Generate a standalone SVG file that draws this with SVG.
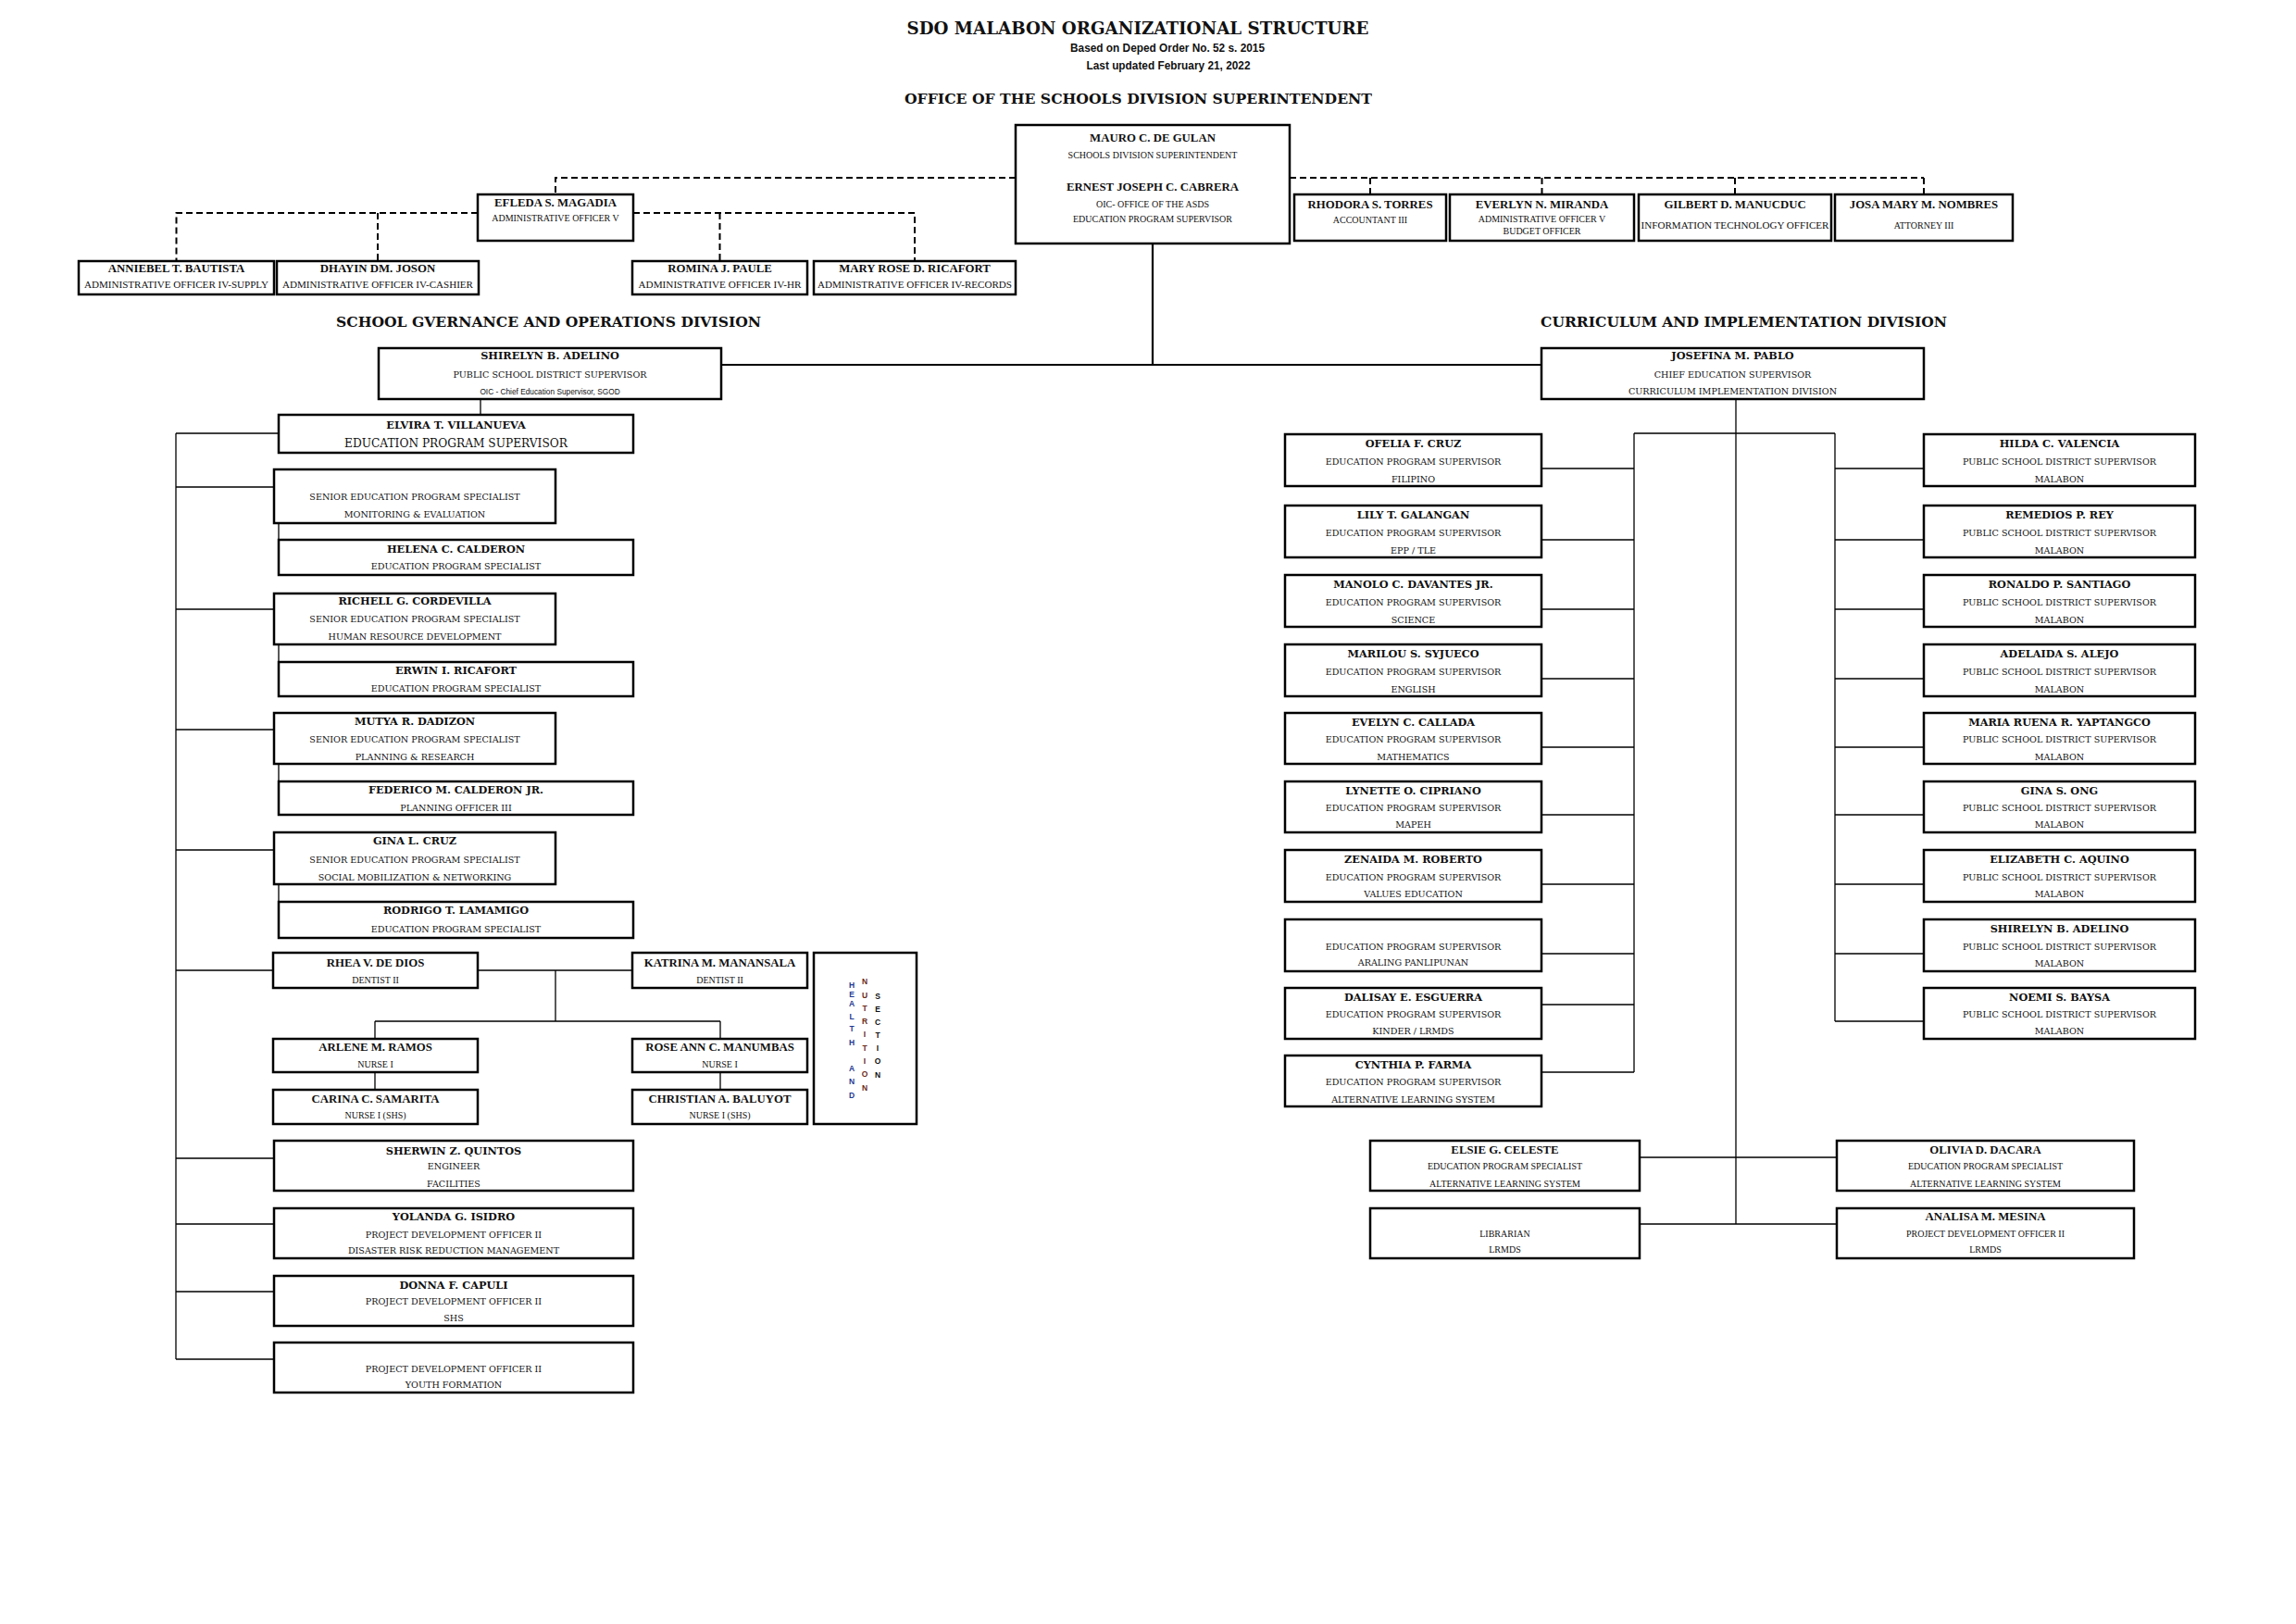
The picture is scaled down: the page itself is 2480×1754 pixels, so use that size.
<svg xmlns="http://www.w3.org/2000/svg" width="2480" height="1754" viewBox="0 0 2480 1754">
<style>
.bx{fill:#fff;stroke:#000;stroke-width:2.5}
.ln{stroke:#000;stroke-width:1.3;fill:none}
.lb{stroke:#000;stroke-width:2.2;fill:none}
.ds{stroke:#000;stroke-width:2;stroke-dasharray:7 4;fill:none}
text{fill:#111;text-anchor:middle}
.ttl{font-family:"DejaVu Serif",serif;font-weight:bold;font-size:19px}
.hd{font-family:"DejaVu Serif",serif;font-weight:bold;font-size:15.5px}
.cal{font-family:"Liberation Sans",sans-serif;font-weight:bold;font-size:12px}
.nb{font-family:"DejaVu Serif",serif;font-weight:bold;font-size:11.3px}
.sb{font-family:"DejaVu Serif",serif;font-size:9.6px}
.sl{font-family:"DejaVu Serif",serif;font-size:12.2px}
.nc{font-family:"Liberation Serif",serif;font-weight:bold;font-size:12.8px}
.sc{font-family:"Liberation Serif",serif;font-size:10px}
.ss{font-family:"Liberation Sans",sans-serif;font-size:8.3px}
.lt{font-family:"Liberation Sans",sans-serif;font-weight:bold;font-size:8.5px}
.c1{fill:#1f3a93}
.c2{fill:#6b2b1a}
</style>
<rect width="2480" height="1754" fill="#fff"/>
<g id="titles">
<text class="ttl" x="1229" y="37" textLength="499" lengthAdjust="spacingAndGlyphs">SDO MALABON ORGANIZATIONAL STRUCTURE</text>
<text class="cal" x="1261" y="56" textLength="210" lengthAdjust="spacingAndGlyphs">Based on Deped Order No. 52 s. 2015</text>
<text class="cal" x="1262" y="75" textLength="177" lengthAdjust="spacingAndGlyphs">Last updated February 21, 2022</text>
<text class="hd" x="1229.5" y="112" textLength="505" lengthAdjust="spacingAndGlyphs">OFFICE OF THE SCHOOLS DIVISION SUPERINTENDENT</text>
<text class="hd" x="592.5" y="353" textLength="459" lengthAdjust="spacingAndGlyphs">SCHOOL GVERNANCE AND OPERATIONS DIVISION</text>
<text class="hd" x="1883.5" y="353" textLength="439" lengthAdjust="spacingAndGlyphs">CURRICULUM AND IMPLEMENTATION DIVISION</text>
</g>
<g id="connectors">
<path class="ds" d="M1393,192H2078M1480,192V210M1665.5,192V210M1874,192V210M2078,192V210"/>
<path class="ds" d="M1097,192H600V210"/>
<path class="ds" d="M516,230H190.5V282M408,230V282M684,230H988V282M777.5,230V282"/>
<path class="lb" d="M1245,263V394M779,394H1665"/>
<path class="ln" d="M519,431V448"/>
<path class="ln" d="M190,468V1468M190,468H301M190,526H296M190,658H296M190,788H296M190,918H296M190,1048H295M190,1251H296M190,1322H296M190,1395H296M190,1468H296"/>
<path class="ln" d="M301,565V583M301,696V715M301,825V844M301,955V974"/>
<path class="ln" d="M516,1048H683M600,1048V1103M405,1103H778M405,1103V1122M778,1103V1122M405,1158V1177M778,1158V1177"/>
<path class="ln" d="M1875,431V1322M1765,468H1982M1765,468V1158M1982,468V1103"/>
<path class="ln" d="M1665,506H1765M1665,583H1765M1665,658H1765M1665,733H1765M1665,807H1765M1665,880H1765M1665,955H1765M1665,1030H1765M1665,1085H1765M1665,1158H1765"/>
<path class="ln" d="M1982,506H2078M1982,583H2078M1982,658H2078M1982,733H2078M1982,807H2078M1982,880H2078M1982,955H2078M1982,1030H2078M1982,1103H2078"/>
<path class="ln" d="M1771,1250H1984M1771,1322H1984"/>
</g>
<g id="sds"><rect class="bx" x="1097" y="135" width="296" height="128"/>
<text class="nc" x="1245" y="153">MAURO C. DE GULAN</text>
<text class="sc" x="1245" y="171">SCHOOLS DIVISION SUPERINTENDENT</text>
<text class="nc" x="1245" y="206">ERNEST JOSEPH C. CABRERA</text>
<text class="sc" x="1245" y="224">OIC- OFFICE OF THE ASDS</text>
<text class="sc" x="1245" y="240">EDUCATION PROGRAM SUPERVISOR</text></g>
<g id="torres"><rect class="bx" x="1398" y="210" width="164" height="50"/>
<text class="nc" x="1480" y="225">RHODORA S. TORRES</text>
<text class="sc" x="1480" y="241">ACCOUNTANT III</text></g>
<g id="miranda"><rect class="bx" x="1566" y="210" width="199" height="50"/>
<text class="nc" x="1665.5" y="225">EVERLYN N. MIRANDA</text>
<text class="sc" x="1665.5" y="240">ADMINISTRATIVE OFFICER V</text>
<text class="sc" x="1665.5" y="253">BUDGET OFFICER</text></g>
<g id="manucduc"><rect class="bx" x="1770" y="210" width="208" height="50"/>
<text class="nc" x="1874" y="225">GILBERT D. MANUCDUC</text>
<text class="sc" x="1874" y="247" textLength="203" lengthAdjust="spacingAndGlyphs">INFORMATION TECHNOLOGY OFFICER</text></g>
<g id="nombres"><rect class="bx" x="1982" y="210" width="192" height="50"/>
<text class="nc" x="2078" y="225">JOSA MARY M. NOMBRES</text>
<text class="sc" x="2078" y="247">ATTORNEY III</text></g>
<g id="magadia"><rect class="bx" x="516" y="210" width="168" height="50"/>
<text class="nc" x="600" y="223">EFLEDA S. MAGADIA</text>
<text class="sc" x="600" y="239">ADMINISTRATIVE OFFICER V</text></g>
<g id="bautista"><rect class="bx" x="85" y="282" width="211" height="36"/>
<text class="nc" x="190.5" y="294">ANNIEBEL T. BAUTISTA</text>
<text class="sc" x="190.5" y="311" textLength="199" lengthAdjust="spacingAndGlyphs">ADMINISTRATIVE OFFICER IV-SUPPLY</text></g>
<g id="joson"><rect class="bx" x="299" y="282" width="218" height="36"/>
<text class="nc" x="408" y="294">DHAYIN DM. JOSON</text>
<text class="sc" x="408" y="311" textLength="206" lengthAdjust="spacingAndGlyphs">ADMINISTRATIVE OFFICER IV-CASHIER</text></g>
<g id="paule"><rect class="bx" x="683" y="282" width="189" height="36"/>
<text class="nc" x="777.5" y="294">ROMINA J. PAULE</text>
<text class="sc" x="777.5" y="311" textLength="176" lengthAdjust="spacingAndGlyphs">ADMINISTRATIVE OFFICER IV-HR</text></g>
<g id="mricafort"><rect class="bx" x="879" y="282" width="218" height="36"/>
<text class="nc" x="988" y="294">MARY ROSE D. RICAFORT</text>
<text class="sc" x="988" y="311" textLength="210" lengthAdjust="spacingAndGlyphs">ADMINISTRATIVE OFFICER IV-RECORDS</text></g>
<g id="sgod-chief"><rect class="bx" x="409" y="376" width="370" height="55"/>
<text class="nb" x="594" y="388">SHIRELYN B. ADELINO</text>
<text class="sb" x="594" y="408">PUBLIC SCHOOL DISTRICT SUPERVISOR</text>
<text class="ss" x="594" y="426">OIC - Chief Education  Supervisor, SGOD</text></g>
<g id="villanueva"><rect class="bx" x="301" y="448" width="383" height="41"/>
<text class="nb" x="492.5" y="463">ELVIRA T. VILLANUEVA</text>
<text class="sl" x="492.5" y="483">EDUCATION PROGRAM SUPERVISOR</text></g>
<g id="seps-me"><rect class="bx" x="296" y="507" width="304" height="58"/>
<text class="sb" x="448" y="540">SENIOR EDUCATION PROGRAM SPECIALIST</text>
<text class="sb" x="448" y="559">MONITORING &amp; EVALUATION</text></g>
<g id="calderon-h"><rect class="bx" x="301" y="583" width="383" height="38"/>
<text class="nb" x="492.5" y="597">HELENA C. CALDERON</text>
<text class="sb" x="492.5" y="615">EDUCATION PROGRAM SPECIALIST</text></g>
<g id="cordevilla"><rect class="bx" x="296" y="641" width="304" height="55"/>
<text class="nb" x="448" y="653">RICHELL G. CORDEVILLA</text>
<text class="sb" x="448" y="672">SENIOR EDUCATION PROGRAM SPECIALIST</text>
<text class="sb" x="448" y="691">HUMAN RESOURCE DEVELOPMENT</text></g>
<g id="ericafort"><rect class="bx" x="301" y="715" width="383" height="37"/>
<text class="nb" x="492.5" y="728">ERWIN I. RICAFORT</text>
<text class="sb" x="492.5" y="747">EDUCATION PROGRAM SPECIALIST</text></g>
<g id="dadizon"><rect class="bx" x="296" y="770" width="304" height="55"/>
<text class="nb" x="448" y="783">MUTYA R. DADIZON</text>
<text class="sb" x="448" y="802">SENIOR EDUCATION PROGRAM SPECIALIST</text>
<text class="sb" x="448" y="821">PLANNING &amp; RESEARCH</text></g>
<g id="calderon-f"><rect class="bx" x="301" y="844" width="383" height="36"/>
<text class="nb" x="492.5" y="857">FEDERICO M. CALDERON JR.</text>
<text class="sb" x="492.5" y="876">PLANNING OFFICER III</text></g>
<g id="gcruz"><rect class="bx" x="296" y="899" width="304" height="56"/>
<text class="nb" x="448" y="912">GINA L. CRUZ</text>
<text class="sb" x="448" y="932">SENIOR EDUCATION PROGRAM SPECIALIST</text>
<text class="sb" x="448" y="951">SOCIAL MOBILIZATION &amp; NETWORKING</text></g>
<g id="lamamigo"><rect class="bx" x="301" y="974" width="383" height="39"/>
<text class="nb" x="492.5" y="987">RODRIGO T. LAMAMIGO</text>
<text class="sb" x="492.5" y="1007">EDUCATION PROGRAM SPECIALIST</text></g>
<g id="dedios"><rect class="bx" x="295" y="1029" width="221" height="38"/>
<text class="nc" x="405.5" y="1044">RHEA V. DE DIOS</text>
<text class="sc" x="405.5" y="1062">DENTIST II</text></g>
<g id="manansala"><rect class="bx" x="683" y="1029" width="189" height="38"/>
<text class="nc" x="777.5" y="1044">KATRINA M. MANANSALA</text>
<text class="sc" x="777.5" y="1062">DENTIST II</text></g>
<g id="ramos"><rect class="bx" x="295" y="1122" width="221" height="36"/>
<text class="nc" x="405.5" y="1135">ARLENE M. RAMOS</text>
<text class="sc" x="405.5" y="1153">NURSE I</text></g>
<g id="manumbas"><rect class="bx" x="683" y="1122" width="189" height="36"/>
<text class="nc" x="777.5" y="1135">ROSE ANN C. MANUMBAS</text>
<text class="sc" x="777.5" y="1153">NURSE I</text></g>
<g id="samarita"><rect class="bx" x="295" y="1177" width="221" height="37"/>
<text class="nc" x="405.5" y="1191">CARINA C. SAMARITA</text>
<text class="sc" x="405.5" y="1208">NURSE I (SHS)</text></g>
<g id="baluyot"><rect class="bx" x="683" y="1177" width="189" height="37"/>
<text class="nc" x="777.5" y="1191">CHRISTIAN A. BALUYOT</text>
<text class="sc" x="777.5" y="1208">NURSE I (SHS)</text></g>
<g id="health-section"><rect class="bx" x="879" y="1029" width="111" height="185"/>
<text class="lt c1" x="920" y="1067">H</text><text class="lt c1" x="920" y="1077">E</text><text class="lt c1" x="920" y="1087">A</text><text class="lt c1" x="920" y="1101">L</text><text class="lt c1" x="920" y="1114">T</text><text class="lt c1" x="920" y="1129">H</text><text class="lt c1" x="920" y="1157">A</text><text class="lt c1" x="920" y="1171">N</text><text class="lt c1" x="920" y="1186">D</text>
<text class="lt c2" x="934" y="1063">N</text><text class="lt c2" x="934" y="1078">U</text><text class="lt c2" x="934" y="1092">T</text><text class="lt c2" x="934" y="1106">R</text><text class="lt c2" x="934" y="1120">I</text><text class="lt c2" x="934" y="1135">T</text><text class="lt c2" x="934" y="1149">I</text><text class="lt c2" x="934" y="1163">O</text><text class="lt c2" x="934" y="1178">N</text>
<text class="lt" x="948" y="1079">S</text><text class="lt" x="948" y="1093">E</text><text class="lt" x="948" y="1107">C</text><text class="lt" x="948" y="1121">T</text><text class="lt" x="948" y="1135">I</text><text class="lt" x="948" y="1149">O</text><text class="lt" x="948" y="1164">N</text>
</g>
<g id="quintos"><rect class="bx" x="296" y="1232" width="388" height="54"/>
<text class="nb" x="490" y="1247">SHERWIN Z. QUINTOS</text>
<text class="sb" x="490" y="1263">ENGINEER</text>
<text class="sb" x="490" y="1282">FACILITIES</text></g>
<g id="isidro"><rect class="bx" x="296" y="1305" width="388" height="54"/>
<text class="nb" x="490" y="1318">YOLANDA G. ISIDRO</text>
<text class="sb" x="490" y="1337">PROJECT DEVELOPMENT OFFICER II</text>
<text class="sb" x="490" y="1354">DISASTER RISK REDUCTION MANAGEMENT</text></g>
<g id="capuli"><rect class="bx" x="296" y="1378" width="388" height="54"/>
<text class="nb" x="490" y="1392">DONNA F. CAPULI</text>
<text class="sb" x="490" y="1409">PROJECT DEVELOPMENT OFFICER II</text>
<text class="sb" x="490" y="1427">SHS</text></g>
<g id="pdo-youth"><rect class="bx" x="296" y="1450" width="388" height="54"/>
<text class="sb" x="490" y="1482">PROJECT DEVELOPMENT OFFICER II</text>
<text class="sb" x="490" y="1499">YOUTH FORMATION</text></g>
<g id="cid-chief"><rect class="bx" x="1665" y="376" width="413" height="55"/>
<text class="nb" x="1871.5" y="388">JOSEFINA M. PABLO</text>
<text class="sb" x="1871.5" y="408">CHIEF EDUCATION SUPERVISOR</text>
<text class="sb" x="1871.5" y="426">CURRICULUM IMPLEMENTATION DIVISION</text></g>
<g id="ocruz"><rect class="bx" x="1388" y="469" width="277" height="56"/>
<text class="nb" x="1526.5" y="483">OFELIA F. CRUZ</text><text class="sb" x="1526.5" y="502">EDUCATION PROGRAM SUPERVISOR</text><text class="sb" x="1526.5" y="521">FILIPINO</text></g>
<g id="galangan"><rect class="bx" x="1388" y="546" width="277" height="56"/>
<text class="nb" x="1526.5" y="560">LILY T. GALANGAN</text><text class="sb" x="1526.5" y="579">EDUCATION PROGRAM SUPERVISOR</text><text class="sb" x="1526.5" y="598">EPP / TLE</text></g>
<g id="davantes"><rect class="bx" x="1388" y="621" width="277" height="56"/>
<text class="nb" x="1526.5" y="635">MANOLO C. DAVANTES JR.</text><text class="sb" x="1526.5" y="654">EDUCATION PROGRAM SUPERVISOR</text><text class="sb" x="1526.5" y="673">SCIENCE</text></g>
<g id="syjueco"><rect class="bx" x="1388" y="696" width="277" height="56"/>
<text class="nb" x="1526.5" y="710">MARILOU S. SYJUECO</text><text class="sb" x="1526.5" y="729">EDUCATION PROGRAM SUPERVISOR</text><text class="sb" x="1526.5" y="748">ENGLISH</text></g>
<g id="callada"><rect class="bx" x="1388" y="770" width="277" height="55"/>
<text class="nb" x="1526.5" y="784">EVELYN C. CALLADA</text><text class="sb" x="1526.5" y="802">EDUCATION PROGRAM SUPERVISOR</text><text class="sb" x="1526.5" y="821">MATHEMATICS</text></g>
<g id="cipriano"><rect class="bx" x="1388" y="844" width="277" height="55"/>
<text class="nb" x="1526.5" y="858">LYNETTE O. CIPRIANO</text><text class="sb" x="1526.5" y="876">EDUCATION PROGRAM SUPERVISOR</text><text class="sb" x="1526.5" y="894">MAPEH</text></g>
<g id="roberto"><rect class="bx" x="1388" y="918" width="277" height="56"/>
<text class="nb" x="1526.5" y="932">ZENAIDA M. ROBERTO</text><text class="sb" x="1526.5" y="951">EDUCATION PROGRAM SUPERVISOR</text><text class="sb" x="1526.5" y="969">VALUES EDUCATION</text></g>
<g id="eps-ap"><rect class="bx" x="1388" y="993" width="277" height="56"/>
<text class="sb" x="1526.5" y="1026">EDUCATION PROGRAM SUPERVISOR</text><text class="sb" x="1526.5" y="1043">ARALING PANLIPUNAN</text></g>
<g id="esguerra"><rect class="bx" x="1388" y="1067" width="277" height="55"/>
<text class="nb" x="1526.5" y="1081">DALISAY E. ESGUERRA</text><text class="sb" x="1526.5" y="1099">EDUCATION PROGRAM SUPERVISOR</text><text class="sb" x="1526.5" y="1117">KINDER / LRMDS</text></g>
<g id="farma"><rect class="bx" x="1388" y="1140" width="277" height="55"/>
<text class="nb" x="1526.5" y="1154">CYNTHIA P. FARMA</text><text class="sb" x="1526.5" y="1172">EDUCATION PROGRAM SUPERVISOR</text><text class="sb" x="1526.5" y="1191">ALTERNATIVE LEARNING SYSTEM</text></g>
<g id="valencia"><rect class="bx" x="2078" y="469" width="293" height="56"/>
<text class="nb" x="2224.5" y="483">HILDA C. VALENCIA</text><text class="sb" x="2224.5" y="502">PUBLIC SCHOOL DISTRICT SUPERVISOR</text><text class="sb" x="2224.5" y="521">MALABON</text></g>
<g id="rey"><rect class="bx" x="2078" y="546" width="293" height="56"/>
<text class="nb" x="2224.5" y="560">REMEDIOS P. REY</text><text class="sb" x="2224.5" y="579">PUBLIC SCHOOL DISTRICT SUPERVISOR</text><text class="sb" x="2224.5" y="598">MALABON</text></g>
<g id="santiago"><rect class="bx" x="2078" y="621" width="293" height="56"/>
<text class="nb" x="2224.5" y="635">RONALDO P. SANTIAGO</text><text class="sb" x="2224.5" y="654">PUBLIC SCHOOL DISTRICT SUPERVISOR</text><text class="sb" x="2224.5" y="673">MALABON</text></g>
<g id="alejo"><rect class="bx" x="2078" y="696" width="293" height="56"/>
<text class="nb" x="2224.5" y="710">ADELAIDA S. ALEJO</text><text class="sb" x="2224.5" y="729">PUBLIC SCHOOL DISTRICT SUPERVISOR</text><text class="sb" x="2224.5" y="748">MALABON</text></g>
<g id="yaptangco"><rect class="bx" x="2078" y="770" width="293" height="55"/>
<text class="nb" x="2224.5" y="784">MARIA RUENA R. YAPTANGCO</text><text class="sb" x="2224.5" y="802">PUBLIC SCHOOL DISTRICT SUPERVISOR</text><text class="sb" x="2224.5" y="821">MALABON</text></g>
<g id="ong"><rect class="bx" x="2078" y="844" width="293" height="55"/>
<text class="nb" x="2224.5" y="858">GINA S. ONG</text><text class="sb" x="2224.5" y="876">PUBLIC SCHOOL DISTRICT SUPERVISOR</text><text class="sb" x="2224.5" y="894">MALABON</text></g>
<g id="aquino"><rect class="bx" x="2078" y="918" width="293" height="56"/>
<text class="nb" x="2224.5" y="932">ELIZABETH C. AQUINO</text><text class="sb" x="2224.5" y="951">PUBLIC SCHOOL DISTRICT SUPERVISOR</text><text class="sb" x="2224.5" y="969">MALABON</text></g>
<g id="adelino-psds"><rect class="bx" x="2078" y="993" width="293" height="56"/>
<text class="nb" x="2224.5" y="1007">SHIRELYN B. ADELINO</text><text class="sb" x="2224.5" y="1026">PUBLIC SCHOOL DISTRICT SUPERVISOR</text><text class="sb" x="2224.5" y="1044">MALABON</text></g>
<g id="baysa"><rect class="bx" x="2078" y="1067" width="293" height="55"/>
<text class="nb" x="2224.5" y="1081">NOEMI S. BAYSA</text><text class="sb" x="2224.5" y="1099">PUBLIC SCHOOL DISTRICT SUPERVISOR</text><text class="sb" x="2224.5" y="1117">MALABON</text></g>
<g id="celeste"><rect class="bx" x="1480" y="1232" width="291" height="54"/>
<text class="nc" x="1625.5" y="1246">ELSIE G. CELESTE</text><text class="sc" x="1625.5" y="1263">EDUCATION PROGRAM SPECIALIST</text><text class="sc" x="1625.5" y="1282">ALTERNATIVE LEARNING SYSTEM</text></g>
<g id="librarian"><rect class="bx" x="1480" y="1305" width="291" height="54"/>
<text class="sc" x="1625.5" y="1336">LIBRARIAN</text><text class="sc" x="1625.5" y="1353">LRMDS</text></g>
<g id="dacara"><rect class="bx" x="1984" y="1232" width="321" height="54"/>
<text class="nc" x="2144.5" y="1246">OLIVIA D. DACARA</text><text class="sc" x="2144.5" y="1263">EDUCATION PROGRAM SPECIALIST</text><text class="sc" x="2144.5" y="1282">ALTERNATIVE LEARNING SYSTEM</text></g>
<g id="mesina"><rect class="bx" x="1984" y="1305" width="321" height="54"/>
<text class="nc" x="2144.5" y="1318">ANALISA M. MESINA</text><text class="sc" x="2144.5" y="1336">PROJECT DEVELOPMENT OFFICER II</text><text class="sc" x="2144.5" y="1353">LRMDS</text></g>
</svg>
